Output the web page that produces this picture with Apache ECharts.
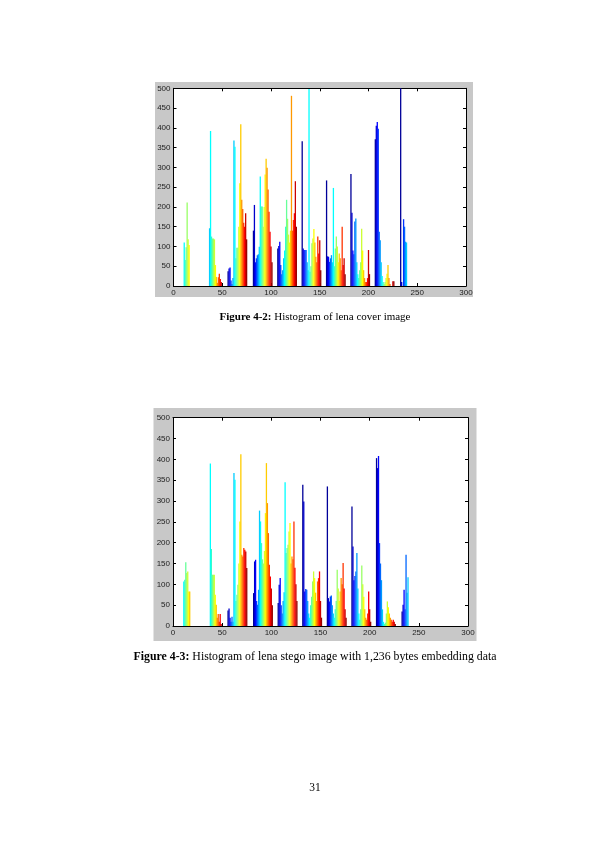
<!DOCTYPE html>
<html><head><meta charset="utf-8">
<script src="https://cdn.jsdelivr.net/npm/echarts@6/dist/echarts.min.js"></script>
<style>html,body{margin:0;padding:0;background:#fff}#c{width:595px;height:842px}</style>
</head><body><div id="c"></div>
<script>
// ---- data ----
const xTicks = { min: 0, max: 300, step: 50 };
const yTicks = { min: 0, max: 500, step: 50 };
const groupStart = [4, 31, 56, 82, 107, 132, 157, 182, 207, 233];

// Figure 4-2: cover image histogram, bars per group (20 bars each)
const cover_g0 = [0,0,0,0,0,0,0,110,66,98,211,118,104,0,0,0,0,0,0,0];
const cover_g1 = [0,0,0,0,0,0,146,392,125,120,120,118,53,23,8,22,31,18,10,0];
const cover_g2 = [37,44,47,14,5,20,368,352,70,97,97,150,260,409,218,195,160,150,184,118];
const cover_g3 = [140,205,60,70,78,80,99,277,201,201,150,200,282,322,299,244,188,137,100,60];
const cover_g4 = [95,101,112,53,30,40,70,90,150,218,170,130,110,140,481,140,167,184,265,150];
const cover_g5 = [366,95,91,91,91,60,40,498,36,50,108,120,144,110,74,60,125,82,116,40];
const cover_g6 = [267,75,74,61,70,78,60,248,50,95,125,100,60,82,70,40,150,53,70,30];
const cover_g7 = [283,185,90,80,163,171,60,30,20,40,60,145,90,40,20,10,10,20,91,30];
const cover_g8 = [371,405,415,398,137,116,60,25,10,5,10,20,31,53,20,5,0,0,12,12];
const cover_g9 = [1200,10,0,169,150,112,110,0,0,0,0,0,0,0,0,0,0,0,0,0];

// Figure 4-3: stego image histogram
const stego_g0 = [0,0,0,0,0,0,0,107,111,153,127,131,83,83,0,0,0,0,0,0];
const stego_g1 = [0,0,0,0,0,0,0,390,185,123,123,123,75,51,20,29,10,29,5,0];
const stego_g2 = [37,42,20,10,22,10,367,351,60,75,99,150,251,412,171,167,187,183,179,139];
const stego_g3 = [79,155,159,60,51,87,277,251,199,160,150,180,271,391,295,223,147,119,90,50];
const stego_g4 = [55,99,115,50,30,60,81,345,175,187,195,227,247,150,167,160,251,140,100,60];
const stego_g5 = [339,299,83,89,87,60,30,20,50,70,107,131,115,80,60,107,115,131,60,20];
const stego_g6 = [335,67,59,71,73,50,30,20,40,60,135,90,60,83,115,100,151,90,40,20];
const stego_g7 = [287,191,110,120,131,175,90,30,15,40,145,100,70,40,20,15,30,83,40,10];
const stego_g8 = [403,379,408,199,150,110,40,10,5,8,30,59,45,30,20,15,10,15,10,5];
const stego_g9 = [35,51,87,40,171,80,117,0,0,0,0,0,0,0,0,0,0,0,0,0];

const coverGroups = [cover_g0,cover_g1,cover_g2,cover_g3,cover_g4,cover_g5,cover_g6,cover_g7,cover_g8,cover_g9];
const stegoGroups = [stego_g0,stego_g1,stego_g2,stego_g3,stego_g4,stego_g5,stego_g6,stego_g7,stego_g8,stego_g9];

const captionCover = ['Figure 4-2:', ' Histogram of lena cover image'];
const captionStego = ['Figure 4-3:', ' Histogram of lena stego image with 1,236 bytes embedding data'];
const pageNumber = '31';

// ---- MATLAB jet(m) colormap ----
function jet(m) {
  const n = Math.ceil(m / 4);
  const u = [];
  for (let i = 1; i <= n; i++) u.push(i / n);
  for (let i = 1; i < n; i++) u.push(1);
  for (let i = n; i >= 1; i--) u.push(i / n);
  const off = Math.ceil(n / 2) - (m % 4 === 1 ? 1 : 0);
  const R = new Array(m).fill(0), G = new Array(m).fill(0), B = new Array(m).fill(0);
  for (let k = 0; k < u.length; k++) {
    const g = off + k + 1, r = g + n, b = g - n;
    if (r >= 1 && r <= m) R[r - 1] = u[k];
    if (g >= 1 && g <= m) G[g - 1] = u[k];
    if (b >= 1 && b <= m) B[b - 1] = u[k];
  }
  const c = v => Math.round(v * 255);
  return R.map((_, i) => `rgb(${c(R[i])},${c(G[i])},${c(B[i])})`);
}
const colors = jet(20);

function build(groups) {
  const out = [];
  groups.forEach((g, k) => g.forEach((v, j) => {
    if (v > 0) out.push({ value: [groupStart[k] + j, v], itemStyle: { color: colors[j] } });
  }));
  return out;
}

const gridBoxes = [
  { left: 173.5, top: 88.3, width: 292.5, height: 197.7 },
  { left: 173, top: 417.7, width: 295, height: 208.3 }
];
const frames = [
  { x: 155, y: 82, w: 318, h: 215 },
  { x: 153.5, y: 408, w: 323, h: 233 }
];

const lab = { fontFamily: 'Liberation Sans', fontSize: 8, color: '#222' };
function xAx(gi, pos, showLabel) {
  return { gridIndex: gi, type: 'value', position: pos, min: xTicks.min, max: xTicks.max, interval: xTicks.step,
    axisLine: { show: true, onZero: false, lineStyle: { color: '#000', width: 1 } },
    axisTick: { show: true, inside: true, length: 3, lineStyle: { color: '#000' } },
    axisLabel: Object.assign({ show: showLabel, margin: 3 }, lab),
    splitLine: { show: false } };
}
function yAx(gi, pos, showLabel) {
  return { gridIndex: gi, type: 'value', position: pos, min: yTicks.min, max: yTicks.max, interval: yTicks.step,
    axisLine: { show: true, onZero: false, lineStyle: { color: '#000', width: 1 } },
    axisTick: { show: true, inside: true, length: 3, lineStyle: { color: '#000' } },
    axisLabel: Object.assign({ show: showLabel, margin: 3 }, lab),
    splitLine: { show: false } };
}

const serif = 'Liberation Serif, Times New Roman, serif';
function caption(parts, top, size) {
  return { text: '{b|' + parts[0] + '}' + parts[1], left: 315, top: top, textAlign: 'center', padding: 0,
    textStyle: { fontFamily: serif, fontSize: size, fontWeight: 'normal', color: '#000',
      rich: { b: { fontFamily: serif, fontSize: size, fontWeight: 'bold', color: '#000' } } } };
}

const chart = echarts.init(document.getElementById('c'), null, { renderer: 'canvas' });
chart.setOption({
  animation: false,
  backgroundColor: '#fff',
  title: [
    caption(captionCover, 312, 11),
    caption(captionStego, 651, 11.8),
    { text: pageNumber, left: 315, top: 782, textAlign: 'center', padding: 0,
      textStyle: { fontFamily: serif, fontSize: 11.5, fontWeight: 'normal', color: '#000' } }
  ],
  graphic: frames.map((f, i) => ({ type: 'group', z: -10, children: [
    { type: 'rect', z: -10, shape: { x: f.x, y: f.y, width: f.w, height: f.h }, style: { fill: '#c8c8c8' } },
    { type: 'rect', z: -9, shape: { x: gridBoxes[i].left, y: gridBoxes[i].top, width: gridBoxes[i].width, height: gridBoxes[i].height }, style: { fill: '#fff' } }
  ] })),
  grid: gridBoxes.map(g => Object.assign({ containLabel: false, show: false }, g)),
  xAxis: [xAx(0, 'bottom', true), xAx(0, 'top', false), xAx(1, 'bottom', true), xAx(1, 'top', false)],
  yAxis: [yAx(0, 'left', true), yAx(0, 'right', false), yAx(1, 'left', true), yAx(1, 'right', false)],
  series: [
    { type: 'bar', xAxisIndex: 0, yAxisIndex: 0, data: build(coverGroups), barWidth: 1.3, clip: true, large: false },
    { type: 'bar', xAxisIndex: 2, yAxisIndex: 2, data: build(stegoGroups), barWidth: 1.3, clip: true, large: false }
  ]
});
</script>
</body></html>
